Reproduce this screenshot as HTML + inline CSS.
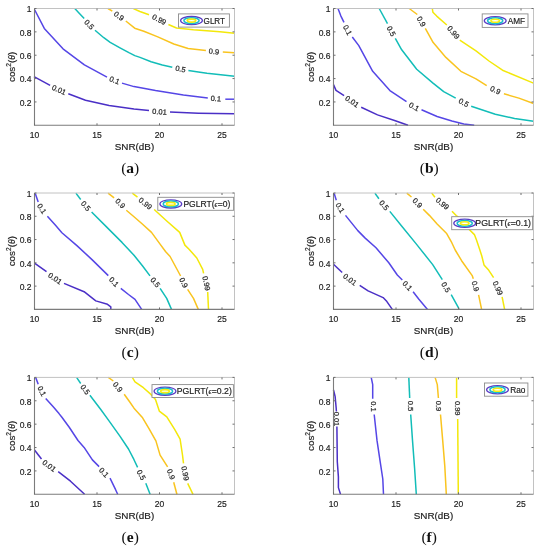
<!DOCTYPE html>
<html><head><meta charset="utf-8"><title>Contour figure</title>
<style>
html,body{margin:0;padding:0;background:#fff;}
body{width:539px;height:550px;overflow:hidden;}
svg{display:block;filter:blur(0.3px);}
svg text{font-family:"Liberation Sans",Arial,sans-serif;fill:#222;}
.tk,.lb,.lg{stroke:#222;stroke-width:0.18px;}
.tk{font-size:9.5px;}
.lb{font-size:9.9px;}
.lg{font-size:8.4px;}
.cl{font-size:7.5px;fill:#2a2a2a;stroke:#2a2a2a;stroke-width:0.22px;}
.cap{font-family:"Liberation Serif","Times New Roman",serif !important;font-size:15.5px;fill:#111 !important;}
.ln{fill:none;stroke-width:1.5;stroke-linejoin:round;stroke-linecap:butt;}
</style></head><body>
<svg width="539" height="550" viewBox="0 0 539 550">
<rect x="0" y="0" width="539" height="550" fill="#fff"/>
<g id="panel-a">
<polyline class="ln" stroke="#4a2fc6" points="34,76.7 50.1,85.3"/>
<polyline class="ln" stroke="#4a2fc6" points="68.3,93.8 85.5,100.3 109.1,105.6 134,109.1 149,110.6"/>
<polyline class="ln" stroke="#4a2fc6" points="170,112.1 198.4,113.2 234.5,113.8"/>
<text class="cl" x="58.9" y="90" text-anchor="middle" dominant-baseline="central" transform="rotate(25.03 58.9 90)">0.01</text>
<text class="cl" x="159.6" y="111.9" text-anchor="middle" dominant-baseline="central" transform="rotate(4.09 159.6 111.9)">0.01</text>
<polyline class="ln" stroke="#5546e6" points="34.5,9.5 44.3,28.4 63,48.8 84.4,64.9 107,77.1"/>
<polyline class="ln" stroke="#5546e6" points="122,83.1 134,86.6 155.5,90.6 183.4,94.9 207.8,97.9"/>
<polyline class="ln" stroke="#5546e6" points="225.3,99.2 234.5,99.2"/>
<text class="cl" x="114.5" y="80.3" text-anchor="middle" dominant-baseline="central" transform="rotate(21.8 114.5 80.3)">0.1</text>
<text class="cl" x="215.8" y="98.6" text-anchor="middle" dominant-baseline="central" transform="rotate(4.25 215.8 98.6)">0.1</text>
<polyline class="ln" stroke="#12bdb8" points="74.8,8.5 78.5,12.5 84.2,18.6"/>
<polyline class="ln" stroke="#12bdb8" points="95,30.3 103.8,37.7 110.2,42.3 120,47.8 128.9,52.7 134.8,55.6 140,57.4 151.1,61.7 162.3,65 172.3,67.3"/>
<polyline class="ln" stroke="#12bdb8" points="188.4,70.4 200,72.3 207,73.3 234.5,76.2"/>
<text class="cl" x="89.2" y="24.6" text-anchor="middle" dominant-baseline="central" transform="rotate(47.29 89.2 24.6)">0.5</text>
<text class="cl" x="180.5" y="69" text-anchor="middle" dominant-baseline="central" transform="rotate(10.9 180.5 69)">0.5</text>
<polyline class="ln" stroke="#f9c41f" points="108,8.5 112.3,11.2"/>
<polyline class="ln" stroke="#f9c41f" points="125.8,21 134.7,28.2 143.8,31.3 157.8,36.9 173.8,44 188.1,48.5 205.9,50.6"/>
<polyline class="ln" stroke="#f9c41f" points="222.8,52.1 234.5,52.8"/>
<text class="cl" x="119" y="16.1" text-anchor="middle" dominant-baseline="central" transform="rotate(35.98 119 16.1)">0.9</text>
<text class="cl" x="214" y="51.6" text-anchor="middle" dominant-baseline="central" transform="rotate(5.07 214 51.6)">0.9</text>
<polyline class="ln" stroke="#f3e80a" points="133.4,8.6 139.9,11.5 149,14.7"/>
<polyline class="ln" stroke="#f3e80a" points="168.4,24.5 176.5,28 193.4,29.8 219.9,31.8 234.5,33.3"/>
<text class="cl" x="159.2" y="19.7" text-anchor="middle" dominant-baseline="central" transform="rotate(26.8 159.2 19.7)">0.99</text>
<path d="M34.5 8.5H234.5V125.3" fill="none" stroke="#c2c2c2" stroke-width="1"/>
<path d="M34.5 8.5V125.3H234.5" fill="none" stroke="#7c7c7c" stroke-width="1.1"/>
<path d="M34.5 125.3v-2M34.5 8.5v2M97 125.3v-2M97 8.5v2M159.5 125.3v-2M159.5 8.5v2M222 125.3v-2M222 8.5v2M34.5 101.94h2M234.5 101.94h-2M34.5 78.58h2M234.5 78.58h-2M34.5 55.22h2M234.5 55.22h-2M34.5 31.86h2M234.5 31.86h-2M34.5 8.5h2M234.5 8.5h-2" stroke="#6e6e6e" stroke-width="1" fill="none"/>
<text class="tk" text-anchor="middle" transform="translate(34.5 137.7) scale(0.9 1)">10</text>
<text class="tk" text-anchor="middle" transform="translate(97 137.7) scale(0.9 1)">15</text>
<text class="tk" text-anchor="middle" transform="translate(159.5 137.7) scale(0.9 1)">20</text>
<text class="tk" text-anchor="middle" transform="translate(222 137.7) scale(0.9 1)">25</text>
<text class="tk" text-anchor="end" transform="translate(31.5 105.84) scale(0.9 1)">0.2</text>
<text class="tk" text-anchor="end" transform="translate(31.5 82.48) scale(0.9 1)">0.4</text>
<text class="tk" text-anchor="end" transform="translate(31.5 59.12) scale(0.9 1)">0.6</text>
<text class="tk" text-anchor="end" transform="translate(31.5 35.76) scale(0.9 1)">0.8</text>
<text class="tk" text-anchor="end" transform="translate(31.5 12.4) scale(0.9 1)">1</text>
<text class="lb" x="134.5" y="149.7" text-anchor="middle">SNR(dB)</text>
<text class="lb" x="15.3" y="66.9" text-anchor="middle" transform="rotate(-90 15.3 66.9)">cos<tspan font-size="6.6" dy="-4.4">2</tspan><tspan dy="4.4">(</tspan><tspan font-style="italic" font-size="8.6">θ</tspan>)</text>
<rect x="178.5" y="13.9" width="50.9" height="13.2" fill="#fff" stroke="#8c8c8c" stroke-width="0.9"/>
<ellipse cx="191.5" cy="20.6" rx="10.9" ry="4.1" fill="none" stroke="#5a3cc6" stroke-width="1.3"/>
<ellipse cx="191.5" cy="20.6" rx="7.6" ry="2.9" fill="none" stroke="#1cbccc" stroke-width="1.5"/>
<ellipse cx="191.5" cy="20.6" rx="4.3" ry="1.5" fill="none" stroke="#f4ee10" stroke-width="1.6"/>
<text class="lg" x="203.6" y="23.7" textLength="21.4" lengthAdjust="spacingAndGlyphs">GLRT</text>
<text class="cap" x="130.2" y="172.8" text-anchor="middle">(<tspan font-weight="bold">a</tspan>)</text>
</g>
<g id="panel-b">
<polyline class="ln" stroke="#4a2fc6" points="333.5,84.6 336,90.4 344.1,95.6"/>
<polyline class="ln" stroke="#4a2fc6" points="361.2,107.2 377.5,114.9 395.3,120.8 408,125.3"/>
<text class="cl" x="352" y="101.6" text-anchor="middle" dominant-baseline="central" transform="rotate(34.15 352 101.6)">0.01</text>
<polyline class="ln" stroke="#5546e6" points="338,8.5 340.8,15.8 344,22.3"/>
<polyline class="ln" stroke="#5546e6" points="352.3,37 358.8,45.6 372.7,71.3 389.9,90.6 406.5,101.7"/>
<polyline class="ln" stroke="#5546e6" points="421.5,109.8 437.1,116.5 451.9,121 463.8,123.9 474.2,125.3"/>
<text class="cl" x="347.5" y="30" text-anchor="middle" dominant-baseline="central" transform="rotate(60.55 347.5 30)">0.1</text>
<text class="cl" x="414" y="106.7" text-anchor="middle" dominant-baseline="central" transform="rotate(28.37 414 106.7)">0.1</text>
<polyline class="ln" stroke="#12bdb8" points="379.2,8.5 387.5,23.6"/>
<polyline class="ln" stroke="#12bdb8" points="395.3,38.3 401.7,49.8 416.7,69.2 433,83.1 443.7,91.7 455.7,98.1"/>
<polyline class="ln" stroke="#12bdb8" points="471.2,106.3 495.3,114.2 514.6,118.5 533.5,121.3"/>
<text class="cl" x="391.2" y="31.3" text-anchor="middle" dominant-baseline="central" transform="rotate(62.05 391.2 31.3)">0.5</text>
<text class="cl" x="463.7" y="102.8" text-anchor="middle" dominant-baseline="central" transform="rotate(27.88 463.7 102.8)">0.5</text>
<polyline class="ln" stroke="#f9c41f" points="409.2,8.5 417.3,14.5"/>
<polyline class="ln" stroke="#f9c41f" points="425.3,28.4 431.8,40.2 433,42.3 445.9,57.4 460.9,71.3 476,78.8 486.7,85.7"/>
<polyline class="ln" stroke="#f9c41f" points="503.9,93.8 518.9,98.1 533.5,103.5"/>
<text class="cl" x="421.2" y="21.6" text-anchor="middle" dominant-baseline="central" transform="rotate(60.08 421.2 21.6)">0.9</text>
<text class="cl" x="495.3" y="90.2" text-anchor="middle" dominant-baseline="central" transform="rotate(25.22 495.3 90.2)">0.9</text>
<polyline class="ln" stroke="#f3e80a" points="432.3,8.5 432.9,12.2 436.7,16.1 446.8,25"/>
<polyline class="ln" stroke="#f3e80a" points="459.8,40.2 476,50.9 489,61 502.5,70.2 533.5,83.1"/>
<text class="cl" x="453.4" y="32.4" text-anchor="middle" dominant-baseline="central" transform="rotate(49.46 453.4 32.4)">0.99</text>
<path d="M333.5 8.5H533.5V125.3" fill="none" stroke="#c2c2c2" stroke-width="1"/>
<path d="M333.5 8.5V125.3H533.5" fill="none" stroke="#7c7c7c" stroke-width="1.1"/>
<path d="M333.5 125.3v-2M333.5 8.5v2M396 125.3v-2M396 8.5v2M458.5 125.3v-2M458.5 8.5v2M521 125.3v-2M521 8.5v2M333.5 101.94h2M533.5 101.94h-2M333.5 78.58h2M533.5 78.58h-2M333.5 55.22h2M533.5 55.22h-2M333.5 31.86h2M533.5 31.86h-2M333.5 8.5h2M533.5 8.5h-2" stroke="#6e6e6e" stroke-width="1" fill="none"/>
<text class="tk" text-anchor="middle" transform="translate(333.5 137.7) scale(0.9 1)">10</text>
<text class="tk" text-anchor="middle" transform="translate(396 137.7) scale(0.9 1)">15</text>
<text class="tk" text-anchor="middle" transform="translate(458.5 137.7) scale(0.9 1)">20</text>
<text class="tk" text-anchor="middle" transform="translate(521 137.7) scale(0.9 1)">25</text>
<text class="tk" text-anchor="end" transform="translate(330.5 105.84) scale(0.9 1)">0.2</text>
<text class="tk" text-anchor="end" transform="translate(330.5 82.48) scale(0.9 1)">0.4</text>
<text class="tk" text-anchor="end" transform="translate(330.5 59.12) scale(0.9 1)">0.6</text>
<text class="tk" text-anchor="end" transform="translate(330.5 35.76) scale(0.9 1)">0.8</text>
<text class="tk" text-anchor="end" transform="translate(330.5 12.4) scale(0.9 1)">1</text>
<text class="lb" x="433.5" y="149.7" text-anchor="middle">SNR(dB)</text>
<text class="lb" x="314.3" y="66.9" text-anchor="middle" transform="rotate(-90 314.3 66.9)">cos<tspan font-size="6.6" dy="-4.4">2</tspan><tspan dy="4.4">(</tspan><tspan font-style="italic" font-size="8.6">θ</tspan>)</text>
<rect x="482.2" y="13.9" width="45.8" height="13.5" fill="#fff" stroke="#8c8c8c" stroke-width="0.9"/>
<ellipse cx="495.2" cy="20.75" rx="10.9" ry="4.1" fill="none" stroke="#5a3cc6" stroke-width="1.3"/>
<ellipse cx="495.2" cy="20.75" rx="7.6" ry="2.9" fill="none" stroke="#1cbccc" stroke-width="1.5"/>
<ellipse cx="495.2" cy="20.75" rx="4.3" ry="1.5" fill="none" stroke="#f4ee10" stroke-width="1.6"/>
<text class="lg" x="507.7" y="23.85" textLength="17.4" lengthAdjust="spacingAndGlyphs">AMF</text>
<text class="cap" x="429.2" y="172.8" text-anchor="middle">(<tspan font-weight="bold">b</tspan>)</text>
</g>
<g id="panel-c">
<polyline class="ln" stroke="#4a2fc6" points="34.5,263.2 46.5,271.7"/>
<polyline class="ln" stroke="#4a2fc6" points="64,283.4 84.1,291.7 95.8,300.9 107.5,304.3 110.8,306.8 110.8,309.4"/>
<text class="cl" x="55" y="278.6" text-anchor="middle" dominant-baseline="central" transform="rotate(33.77 55 278.6)">0.01</text>
<polyline class="ln" stroke="#5546e6" points="35.1,193.1 38.2,202"/>
<polyline class="ln" stroke="#5546e6" points="47.4,216.2 55.5,225.3 61.9,232.8 76.9,245.6 92,259.6 108.3,275.6"/>
<polyline class="ln" stroke="#5546e6" points="120.8,288.4 128.5,294.5 135,299.3 141.7,309.4"/>
<text class="cl" x="41.8" y="208.8" text-anchor="middle" dominant-baseline="central" transform="rotate(57.06 41.8 208.8)">0.1</text>
<text class="cl" x="113.9" y="282" text-anchor="middle" dominant-baseline="central" transform="rotate(45.68 113.9 282)">0.1</text>
<polyline class="ln" stroke="#12bdb8" points="75.9,193.1 80.7,199.5"/>
<polyline class="ln" stroke="#12bdb8" points="91.6,212 107,227.4 122,242.4 134,255.3 142.6,266 150,275.9"/>
<polyline class="ln" stroke="#12bdb8" points="160.1,288.4 166.7,298.4 171.5,309.4"/>
<text class="cl" x="85.8" y="206" text-anchor="middle" dominant-baseline="central" transform="rotate(48.91 85.8 206)">0.5</text>
<text class="cl" x="155.2" y="282.4" text-anchor="middle" dominant-baseline="central" transform="rotate(51.06 155.2 282.4)">0.5</text>
<polyline class="ln" stroke="#f9c41f" points="108.1,193.1 114.1,197.8"/>
<polyline class="ln" stroke="#f9c41f" points="126.3,210.2 134,216.7 142.6,224.2 151.5,232.4 159.7,243.6 165.5,251.5 170.1,256.5 180.6,276"/>
<polyline class="ln" stroke="#f9c41f" points="187.6,289.3 193.5,298.4 198.3,309.4"/>
<text class="cl" x="120.2" y="203.4" text-anchor="middle" dominant-baseline="central" transform="rotate(45.47 120.2 203.4)">0.9</text>
<text class="cl" x="183.6" y="282.6" text-anchor="middle" dominant-baseline="central" transform="rotate(62.24 183.6 282.6)">0.9</text>
<polyline class="ln" stroke="#f3e80a" points="132.3,193.1 137.5,197.2"/>
<polyline class="ln" stroke="#f3e80a" points="154.2,209.5 166.2,220.5 179.7,232.4 184.9,245.1 189.3,249.5 196.8,258 202.7,269.3 203.6,273.4"/>
<polyline class="ln" stroke="#f3e80a" points="207.7,292 208.5,309.4"/>
<text class="cl" x="145.4" y="203.6" text-anchor="middle" dominant-baseline="central" transform="rotate(38 145.4 203.6)">0.99</text>
<text class="cl" x="206.3" y="283.4" text-anchor="middle" dominant-baseline="central" transform="rotate(77.57 206.3 283.4)">0.99</text>
<path d="M34.5 193H234.5V309.4" fill="none" stroke="#c2c2c2" stroke-width="1"/>
<path d="M34.5 193V309.4H234.5" fill="none" stroke="#7c7c7c" stroke-width="1.1"/>
<path d="M34.5 309.4v-2M34.5 193v2M97 309.4v-2M97 193v2M159.5 309.4v-2M159.5 193v2M222 309.4v-2M222 193v2M34.5 286.12h2M234.5 286.12h-2M34.5 262.84h2M234.5 262.84h-2M34.5 239.56h2M234.5 239.56h-2M34.5 216.28h2M234.5 216.28h-2M34.5 193h2M234.5 193h-2" stroke="#6e6e6e" stroke-width="1" fill="none"/>
<text class="tk" text-anchor="middle" transform="translate(34.5 321.8) scale(0.9 1)">10</text>
<text class="tk" text-anchor="middle" transform="translate(97 321.8) scale(0.9 1)">15</text>
<text class="tk" text-anchor="middle" transform="translate(159.5 321.8) scale(0.9 1)">20</text>
<text class="tk" text-anchor="middle" transform="translate(222 321.8) scale(0.9 1)">25</text>
<text class="tk" text-anchor="end" transform="translate(31.5 290.02) scale(0.9 1)">0.2</text>
<text class="tk" text-anchor="end" transform="translate(31.5 266.74) scale(0.9 1)">0.4</text>
<text class="tk" text-anchor="end" transform="translate(31.5 243.46) scale(0.9 1)">0.6</text>
<text class="tk" text-anchor="end" transform="translate(31.5 220.18) scale(0.9 1)">0.8</text>
<text class="tk" text-anchor="end" transform="translate(31.5 196.9) scale(0.9 1)">1</text>
<text class="lb" x="134.5" y="333.8" text-anchor="middle">SNR(dB)</text>
<text class="lb" x="15.3" y="251.2" text-anchor="middle" transform="rotate(-90 15.3 251.2)">cos<tspan font-size="6.6" dy="-4.4">2</tspan><tspan dy="4.4">(</tspan><tspan font-style="italic" font-size="8.6">θ</tspan>)</text>
<rect x="157.8" y="197.3" width="75.8" height="13" fill="#fff" stroke="#8c8c8c" stroke-width="0.9"/>
<ellipse cx="170.8" cy="203.9" rx="10.9" ry="4.1" fill="none" stroke="#5a3cc6" stroke-width="1.3"/>
<ellipse cx="170.8" cy="203.9" rx="7.6" ry="2.9" fill="none" stroke="#1cbccc" stroke-width="1.5"/>
<ellipse cx="170.8" cy="203.9" rx="4.3" ry="1.5" fill="none" stroke="#f4ee10" stroke-width="1.6"/>
<text class="lg" x="183.4" y="207" textLength="46.9" lengthAdjust="spacingAndGlyphs">PGLRT(<tspan font-style="italic" font-size="7.14">ϵ</tspan>=0)</text>
<text class="cap" x="130.2" y="356.9" text-anchor="middle">(<tspan font-weight="bold">c</tspan>)</text>
</g>
<g id="panel-d">
<polyline class="ln" stroke="#4a2fc6" points="333.5,264.2 342.2,272.5"/>
<polyline class="ln" stroke="#4a2fc6" points="359.7,285.4 368.1,290.9 383.1,297.6 386.9,301.6 392.3,309.4"/>
<text class="cl" x="349.9" y="279.6" text-anchor="middle" dominant-baseline="central" transform="rotate(36.4 349.9 279.6)">0.01</text>
<polyline class="ln" stroke="#5546e6" points="334.1,193.1 336.3,200.3"/>
<polyline class="ln" stroke="#5546e6" points="345.5,215.4 357.8,230.6 365.2,238.1 376,247.8 388.8,262.8 397.3,275 402.3,280"/>
<polyline class="ln" stroke="#5546e6" points="413.1,291.7 418.9,299.3 427.5,309.4"/>
<text class="cl" x="340" y="207.9" text-anchor="middle" dominant-baseline="central" transform="rotate(58.65 340 207.9)">0.1</text>
<text class="cl" x="407.4" y="285.9" text-anchor="middle" dominant-baseline="central" transform="rotate(47.29 407.4 285.9)">0.1</text>
<polyline class="ln" stroke="#12bdb8" points="374.9,193.1 378.9,198.7"/>
<polyline class="ln" stroke="#12bdb8" points="389.8,211.4 401.4,225.7 416.4,244.1 432.7,264.6 442.3,279.6"/>
<polyline class="ln" stroke="#12bdb8" points="451.2,294.6 458.4,307.6 459,309.4"/>
<text class="cl" x="384" y="205.4" text-anchor="middle" dominant-baseline="central" transform="rotate(49.36 384 205.4)">0.5</text>
<text class="cl" x="445.9" y="287.3" text-anchor="middle" dominant-baseline="central" transform="rotate(59.32 445.9 287.3)">0.5</text>
<polyline class="ln" stroke="#f9c41f" points="406.8,193.1 411.5,197"/>
<polyline class="ln" stroke="#f9c41f" points="423.2,209.2 429.6,215.6 437.1,224 446.4,233.2 451.8,242.7 455.2,250 461.6,260.7 472.2,275.6 473.3,278.8"/>
<polyline class="ln" stroke="#f9c41f" points="478.6,294.8 481.6,309.4"/>
<text class="cl" x="417.3" y="203" text-anchor="middle" dominant-baseline="central" transform="rotate(46.2 417.3 203)">0.9</text>
<text class="cl" x="475.4" y="286.3" text-anchor="middle" dominant-baseline="central" transform="rotate(71.67 475.4 286.3)">0.9</text>
<polyline class="ln" stroke="#f3e80a" points="431.7,193.1 434.9,197.3"/>
<polyline class="ln" stroke="#f3e80a" points="452,211.2 456.2,215.5 460.9,218.8 469,229.3 474.4,234.6 476.5,240 479.7,249.6 481.8,256 484,264.9 488.8,270.3 493.6,277.7"/>
<polyline class="ln" stroke="#f3e80a" points="502.1,296.9 504.6,309.4"/>
<text class="cl" x="442.4" y="203.7" text-anchor="middle" dominant-baseline="central" transform="rotate(39.11 442.4 203.7)">0.99</text>
<text class="cl" x="497.8" y="288.2" text-anchor="middle" dominant-baseline="central" transform="rotate(66.12 497.8 288.2)">0.99</text>
<path d="M333.5 193H533.5V309.4" fill="none" stroke="#c2c2c2" stroke-width="1"/>
<path d="M333.5 193V309.4H533.5" fill="none" stroke="#7c7c7c" stroke-width="1.1"/>
<path d="M333.5 309.4v-2M333.5 193v2M396 309.4v-2M396 193v2M458.5 309.4v-2M458.5 193v2M521 309.4v-2M521 193v2M333.5 286.12h2M533.5 286.12h-2M333.5 262.84h2M533.5 262.84h-2M333.5 239.56h2M533.5 239.56h-2M333.5 216.28h2M533.5 216.28h-2M333.5 193h2M533.5 193h-2" stroke="#6e6e6e" stroke-width="1" fill="none"/>
<text class="tk" text-anchor="middle" transform="translate(333.5 321.8) scale(0.9 1)">10</text>
<text class="tk" text-anchor="middle" transform="translate(396 321.8) scale(0.9 1)">15</text>
<text class="tk" text-anchor="middle" transform="translate(458.5 321.8) scale(0.9 1)">20</text>
<text class="tk" text-anchor="middle" transform="translate(521 321.8) scale(0.9 1)">25</text>
<text class="tk" text-anchor="end" transform="translate(330.5 290.02) scale(0.9 1)">0.2</text>
<text class="tk" text-anchor="end" transform="translate(330.5 266.74) scale(0.9 1)">0.4</text>
<text class="tk" text-anchor="end" transform="translate(330.5 243.46) scale(0.9 1)">0.6</text>
<text class="tk" text-anchor="end" transform="translate(330.5 220.18) scale(0.9 1)">0.8</text>
<text class="tk" text-anchor="end" transform="translate(330.5 196.9) scale(0.9 1)">1</text>
<text class="lb" x="433.5" y="333.8" text-anchor="middle">SNR(dB)</text>
<text class="lb" x="314.3" y="251.2" text-anchor="middle" transform="rotate(-90 314.3 251.2)">cos<tspan font-size="6.6" dy="-4.4">2</tspan><tspan dy="4.4">(</tspan><tspan font-style="italic" font-size="8.6">θ</tspan>)</text>
<rect x="451.7" y="216.7" width="80.9" height="13" fill="#fff" stroke="#8c8c8c" stroke-width="0.9"/>
<ellipse cx="464.7" cy="223.3" rx="10.9" ry="4.1" fill="none" stroke="#5a3cc6" stroke-width="1.3"/>
<ellipse cx="464.7" cy="223.3" rx="7.6" ry="2.9" fill="none" stroke="#1cbccc" stroke-width="1.5"/>
<ellipse cx="464.7" cy="223.3" rx="4.3" ry="1.5" fill="none" stroke="#f4ee10" stroke-width="1.6"/>
<text class="lg" x="475.3" y="226.4" textLength="55.7" lengthAdjust="spacingAndGlyphs">PGLRT(<tspan font-style="italic" font-size="7.14">ϵ</tspan>=0.1)</text>
<text class="cap" x="429.2" y="356.9" text-anchor="middle">(<tspan font-weight="bold">d</tspan>)</text>
</g>
<g id="panel-e">
<polyline class="ln" stroke="#4a2fc6" points="34.5,450 41.5,459"/>
<polyline class="ln" stroke="#4a2fc6" points="58.2,471.6 70.5,481.2 84.6,494.3"/>
<text class="cl" x="49.2" y="465.8" text-anchor="middle" dominant-baseline="central" transform="rotate(37.03 49.2 465.8)">0.01</text>
<polyline class="ln" stroke="#5546e6" points="35.7,377.4 38.2,384.3"/>
<polyline class="ln" stroke="#5546e6" points="45.7,398.5 53,406.5 59,413.6 61.9,417.3 69.4,427.5 78,440.5 84.1,447.4 92.4,459.9 99.1,466.6"/>
<polyline class="ln" stroke="#5546e6" points="110,478.2 115.6,489.7 117.7,494.3"/>
<text class="cl" x="41.8" y="391.2" text-anchor="middle" dominant-baseline="central" transform="rotate(62.16 41.8 391.2)">0.1</text>
<text class="cl" x="103.9" y="472.6" text-anchor="middle" dominant-baseline="central" transform="rotate(46.78 103.9 472.6)">0.1</text>
<polyline class="ln" stroke="#12bdb8" points="76.6,377.4 80.7,383.5"/>
<polyline class="ln" stroke="#12bdb8" points="89.9,395.2 100.6,409.3 109.2,421.1 119.9,436.1 128.5,449 134,459.7 137.6,467.4"/>
<polyline class="ln" stroke="#12bdb8" points="145.8,483.3 150.1,494.3"/>
<text class="cl" x="85.2" y="389.6" text-anchor="middle" dominant-baseline="central" transform="rotate(51.82 85.2 389.6)">0.5</text>
<text class="cl" x="141.2" y="475" text-anchor="middle" dominant-baseline="central" transform="rotate(62.72 141.2 475)">0.5</text>
<polyline class="ln" stroke="#f9c41f" points="108.3,377.4 113.3,381"/>
<polyline class="ln" stroke="#f9c41f" points="124.2,394.2 129.6,401.8 134,408.2 142.6,417.8 149,428.6 155.9,440.9 160.1,455.1 167.6,466.8"/>
<polyline class="ln" stroke="#f9c41f" points="173.7,482.2 176.9,494.3"/>
<text class="cl" x="117.7" y="387" text-anchor="middle" dominant-baseline="central" transform="rotate(50.45 117.7 387)">0.9</text>
<text class="cl" x="170.9" y="474.3" text-anchor="middle" dominant-baseline="central" transform="rotate(68.39 170.9 474.3)">0.9</text>
<polyline class="ln" stroke="#f3e80a" points="132.3,377.4 135,381.8 143.4,387.7 150.9,394.4 155.5,399.6 159.3,411.1 166.8,416.9 174.8,429.6 180.1,439.2 182.5,455 183.5,463.4"/>
<polyline class="ln" stroke="#f3e80a" points="187.7,483.3 193,494.3"/>
<text class="cl" x="185.1" y="473.4" text-anchor="middle" dominant-baseline="central" transform="rotate(78.08 185.1 473.4)">0.99</text>
<path d="M34.5 377.4H234.5V494.3" fill="none" stroke="#c2c2c2" stroke-width="1"/>
<path d="M34.5 377.4V494.3H234.5" fill="none" stroke="#7c7c7c" stroke-width="1.1"/>
<path d="M34.5 494.3v-2M34.5 377.4v2M97 494.3v-2M97 377.4v2M159.5 494.3v-2M159.5 377.4v2M222 494.3v-2M222 377.4v2M34.5 470.92h2M234.5 470.92h-2M34.5 447.54h2M234.5 447.54h-2M34.5 424.16h2M234.5 424.16h-2M34.5 400.78h2M234.5 400.78h-2M34.5 377.4h2M234.5 377.4h-2" stroke="#6e6e6e" stroke-width="1" fill="none"/>
<text class="tk" text-anchor="middle" transform="translate(34.5 506.7) scale(0.9 1)">10</text>
<text class="tk" text-anchor="middle" transform="translate(97 506.7) scale(0.9 1)">15</text>
<text class="tk" text-anchor="middle" transform="translate(159.5 506.7) scale(0.9 1)">20</text>
<text class="tk" text-anchor="middle" transform="translate(222 506.7) scale(0.9 1)">25</text>
<text class="tk" text-anchor="end" transform="translate(31.5 474.82) scale(0.9 1)">0.2</text>
<text class="tk" text-anchor="end" transform="translate(31.5 451.44) scale(0.9 1)">0.4</text>
<text class="tk" text-anchor="end" transform="translate(31.5 428.06) scale(0.9 1)">0.6</text>
<text class="tk" text-anchor="end" transform="translate(31.5 404.68) scale(0.9 1)">0.8</text>
<text class="tk" text-anchor="end" transform="translate(31.5 381.3) scale(0.9 1)">1</text>
<text class="lb" x="134.5" y="518.7" text-anchor="middle">SNR(dB)</text>
<text class="lb" x="15.3" y="435.85" text-anchor="middle" transform="rotate(-90 15.3 435.85)">cos<tspan font-size="6.6" dy="-4.4">2</tspan><tspan dy="4.4">(</tspan><tspan font-style="italic" font-size="8.6">θ</tspan>)</text>
<rect x="152" y="384.6" width="81.4" height="12.9" fill="#fff" stroke="#8c8c8c" stroke-width="0.9"/>
<ellipse cx="165" cy="391.15" rx="10.9" ry="4.1" fill="none" stroke="#5a3cc6" stroke-width="1.3"/>
<ellipse cx="165" cy="391.15" rx="7.6" ry="2.9" fill="none" stroke="#1cbccc" stroke-width="1.5"/>
<ellipse cx="165" cy="391.15" rx="4.3" ry="1.5" fill="none" stroke="#f4ee10" stroke-width="1.6"/>
<text class="lg" x="176.8" y="394.25" textLength="55" lengthAdjust="spacingAndGlyphs">PGLRT(<tspan font-style="italic" font-size="7.14">ϵ</tspan>=0.2)</text>
<text class="cap" x="130.2" y="541.8" text-anchor="middle">(<tspan font-weight="bold">e</tspan>)</text>
</g>
<g id="panel-f">
<polyline class="ln" stroke="#4a2fc6" points="333.5,390 335.1,396.4 336.2,408.2 336.4,411.5"/>
<polyline class="ln" stroke="#4a2fc6" points="336.9,426.5 337.3,461.8 338.4,476.9 338.4,487.6 340.5,494.3"/>
<text class="cl" x="336.4" y="419" text-anchor="middle" dominant-baseline="central" transform="rotate(90 336.4 419)">0.01</text>
<polyline class="ln" stroke="#5546e6" points="371.2,377.4 372.7,384.6 372.7,398.7"/>
<polyline class="ln" stroke="#5546e6" points="374.2,414.5 377,440.4 380.2,461.8 382.8,479 383.5,494.3"/>
<text class="cl" x="373.5" y="406.5" text-anchor="middle" dominant-baseline="central" transform="rotate(90 373.5 406.5)">0.1</text>
<polyline class="ln" stroke="#12bdb8" points="408.8,377.4 409.7,398"/>
<polyline class="ln" stroke="#12bdb8" points="410.7,414.5 412.5,440.4 414.6,468.3 416.3,494.3"/>
<text class="cl" x="410.3" y="406" text-anchor="middle" dominant-baseline="central" transform="rotate(90 410.3 406)">0.5</text>
<polyline class="ln" stroke="#f9c41f" points="435.1,377.4 437.3,384.6 438.4,398"/>
<polyline class="ln" stroke="#f9c41f" points="440.5,414.5 442.7,440.4 444.8,466.1 446.3,494.3"/>
<text class="cl" x="438.8" y="406" text-anchor="middle" dominant-baseline="central" transform="rotate(90 438.8 406)">0.9</text>
<polyline class="ln" stroke="#f3e80a" points="456.6,377.4 456.6,398"/>
<polyline class="ln" stroke="#f3e80a" points="457.7,418.9 458.3,494.3"/>
<text class="cl" x="457" y="408.2" text-anchor="middle" dominant-baseline="central" transform="rotate(90 457 408.2)">0.99</text>
<path d="M333.5 377.4H533.5V494.3" fill="none" stroke="#c2c2c2" stroke-width="1"/>
<path d="M333.5 377.4V494.3H533.5" fill="none" stroke="#7c7c7c" stroke-width="1.1"/>
<path d="M333.5 494.3v-2M333.5 377.4v2M396 494.3v-2M396 377.4v2M458.5 494.3v-2M458.5 377.4v2M521 494.3v-2M521 377.4v2M333.5 470.92h2M533.5 470.92h-2M333.5 447.54h2M533.5 447.54h-2M333.5 424.16h2M533.5 424.16h-2M333.5 400.78h2M533.5 400.78h-2M333.5 377.4h2M533.5 377.4h-2" stroke="#6e6e6e" stroke-width="1" fill="none"/>
<text class="tk" text-anchor="middle" transform="translate(333.5 506.7) scale(0.9 1)">10</text>
<text class="tk" text-anchor="middle" transform="translate(396 506.7) scale(0.9 1)">15</text>
<text class="tk" text-anchor="middle" transform="translate(458.5 506.7) scale(0.9 1)">20</text>
<text class="tk" text-anchor="middle" transform="translate(521 506.7) scale(0.9 1)">25</text>
<text class="tk" text-anchor="end" transform="translate(330.5 474.82) scale(0.9 1)">0.2</text>
<text class="tk" text-anchor="end" transform="translate(330.5 451.44) scale(0.9 1)">0.4</text>
<text class="tk" text-anchor="end" transform="translate(330.5 428.06) scale(0.9 1)">0.6</text>
<text class="tk" text-anchor="end" transform="translate(330.5 404.68) scale(0.9 1)">0.8</text>
<text class="tk" text-anchor="end" transform="translate(330.5 381.3) scale(0.9 1)">1</text>
<text class="lb" x="433.5" y="518.7" text-anchor="middle">SNR(dB)</text>
<text class="lb" x="314.3" y="435.85" text-anchor="middle" transform="rotate(-90 314.3 435.85)">cos<tspan font-size="6.6" dy="-4.4">2</tspan><tspan dy="4.4">(</tspan><tspan font-style="italic" font-size="8.6">θ</tspan>)</text>
<rect x="484.5" y="383" width="43.4" height="13.2" fill="#fff" stroke="#8c8c8c" stroke-width="0.9"/>
<ellipse cx="497.5" cy="389.7" rx="10.9" ry="4.1" fill="none" stroke="#5a3cc6" stroke-width="1.3"/>
<ellipse cx="497.5" cy="389.7" rx="7.6" ry="2.9" fill="none" stroke="#1cbccc" stroke-width="1.5"/>
<ellipse cx="497.5" cy="389.7" rx="4.3" ry="1.5" fill="none" stroke="#f4ee10" stroke-width="1.6"/>
<text class="lg" x="510.2" y="392.8" textLength="15.2" lengthAdjust="spacingAndGlyphs">Rao</text>
<text class="cap" x="429.2" y="541.8" text-anchor="middle">(<tspan font-weight="bold">f</tspan>)</text>
</g>
</svg>
</body></html>
